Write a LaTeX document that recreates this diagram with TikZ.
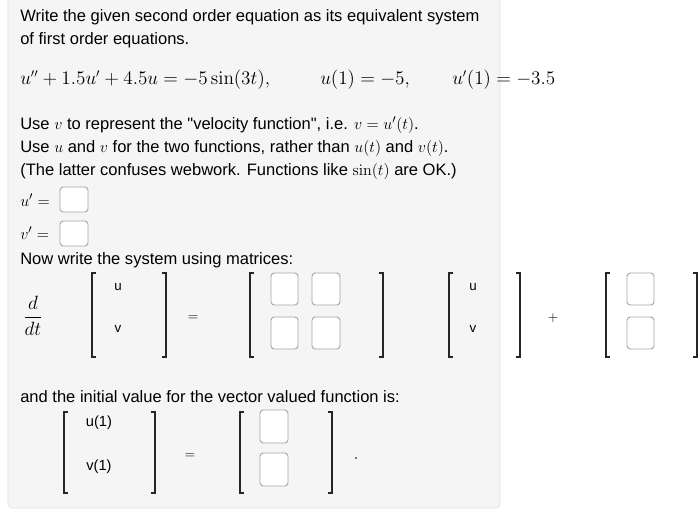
\documentclass[tikz,border=0pt]{standalone}
\usepackage[no-math]{fontspec}
\setmainfont{Liberation Sans}
\usepackage{amsmath}
\begin{document}
\begin{tikzpicture}[x=0.75pt,y=-0.75pt,
  txt/.style={anchor=west,inner sep=0pt,font=\fontsize{12.4}{14}\selectfont},
  eqt/.style={anchor=west,inner sep=0pt,font=\fontsize{13.4}{15}\selectfont},
  ansbox/.style={draw=black!35,fill=white,rounded corners=2.5pt,line width=0.7pt},
  brk/.style={line width=0.9pt,black!85}]
\useasboundingbox (0,0) rectangle (700,512);
\fill[white] (0,0) rectangle (700,512);
\draw[fill=black!4,draw=black!12,rounded corners=3pt] (8,-5) rectangle (500,508);
\node[txt] (l1) at (20,17) {Write the given second order equation as its equivalent system};
\node[txt] (l2) at (20,40) {of first order equations.};
\node[eqt] (e1) at (20,80) {$u''+1.5u'+4.5u=-5\sin(3t),$};
\node[eqt] (e2) at (320,80) {$u(1)=-5,$};
\node[eqt] (e3) at (452,80) {$u'(1)=-3.5$};
\node[txt] (l3) at (20,125) {Use $v$ to represent the \textquotedbl velocity function\textquotedbl, i.e. $v=u'(t)$.};
\node[txt] (l4) at (20,148) {Use $u$ and $v$ for the two functions, rather than $u(t)$ and $v(t)$.};
\node[txt] (l5) at (20,171) {(The latter confuses webwork. Functions like $\sin(t)$ are OK.)};
\node[txt] (up) at (20,200) {$u'=$};
\draw[ansbox] (60,187) rectangle (88,212);
\node[txt] (vp) at (20,233) {$v'=$};
\draw[ansbox] (60,221) rectangle (88,246);
\node[txt] (l6) at (20,260) {Now write the system using matrices:};
\node[inner sep=0pt,font=\fontsize{14}{16}\selectfont] (ddt) at (33,316) {$\dfrac{d}{dt}$};
\def\lb#1#2#3{\draw[brk] (#1+4,#2) -- (#1,#2) -- (#1,#3) -- (#1+4,#3);}
\def\rb#1#2#3{\draw[brk] (#1-4,#2) -- (#1,#2) -- (#1,#3) -- (#1-4,#3);}
\lb{92}{273}{357}\rb{166}{273}{357}
\node[font=\fontsize{10}{12}\selectfont] (u1) at (118,287) {u};
\node[font=\fontsize{10}{12}\selectfont] (v1) at (118,329) {v};
\node (eq1) at (193,318) {$=$};
\lb{250}{273}{357}\rb{383}{273}{357}
\draw[ansbox] (271,273) rectangle (298,305);
\draw[ansbox] (312,273) rectangle (340,305);
\draw[ansbox] (271,317) rectangle (298,349);
\draw[ansbox] (312,317) rectangle (340,349);
\lb{449}{273}{357}\rb{520}{273}{357}
\node[font=\fontsize{10}{12}\selectfont] (u2) at (473,287) {u};
\node[font=\fontsize{10}{12}\selectfont] (v2) at (473,329) {v};
\node (plus) at (553,318) {$+$};
\lb{606}{273}{357}\rb{697}{273}{357}
\draw[ansbox] (627,273) rectangle (654,305);
\draw[ansbox] (627,317) rectangle (654,349);
\node[txt] (l7) at (20,397) {and the initial value for the vector valued function is:};
\lb{64}{412}{493}\rb{155}{412}{493}
\node[font=\fontsize{11}{12}\selectfont] (u3) at (99,423) {u(1)};
\node[font=\fontsize{11}{12}\selectfont] (v3) at (99,467) {v(1)};
\node (eq2) at (190,456) {$=$};
\lb{240}{412}{493}\rb{332}{412}{493}
\draw[ansbox] (260,410) rectangle (288,443);
\draw[ansbox] (260,453) rectangle (288,486);
\fill (356,458) circle (0.9);
\end{tikzpicture}
\end{document}
